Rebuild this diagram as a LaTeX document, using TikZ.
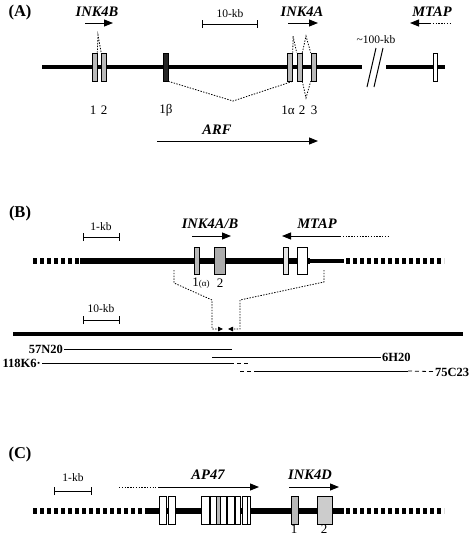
\documentclass[tikz,border=0pt]{standalone}
\usepackage{fontspec}
\setmainfont{Liberation Serif}
\usetikzlibrary{arrows.meta}
\begin{document}
\begin{tikzpicture}[x=1pt,y=-1pt,
 exon/.style={draw=black,line width=0.6pt,inner sep=0pt,minimum height=28pt,anchor=center},
 gx/.style={exon,fill=gray!55},
 lgx/.style={exon,fill=gray!30},
 wx/.style={exon,fill=white},
 dx/.style={exon,fill=black!85},
 chrom/.style={line width=4.2pt},
 chromb/.style={line width=5.5pt},
 chromdash/.style={line width=5.5pt,dash pattern=on 4pt off 3pt},
 gene/.style={font=\fontsize{14.5}{14.5}\selectfont\bfseries\itshape,inner sep=0pt},
 lab/.style={font=\fontsize{13}{13}\selectfont,inner sep=0pt},
 small/.style={font=\fontsize{11.5}{11.5}\selectfont,inner sep=0pt},
 clone/.style={font=\fontsize{12.5}{12.5}\selectfont\bfseries,inner sep=1pt},
 panel/.style={font=\fontsize{16.5}{16.5}\selectfont\bfseries,inner sep=0pt},
 dir/.style={line width=0.9pt,-{Triangle[length=9pt,width=7pt]}},
 dots/.style={line width=0.8pt,dash pattern=on 1.4pt off 1.4pt},
 thinl/.style={line width=0.8pt},
 scalebar/.style={line width=0.7pt,{Bar[width=8pt]}-{Bar[width=8pt]}}
]
\useasboundingbox (0,0) rectangle (474,539);

% ---------------- Panel A ----------------
\node[panel] (pA) at (20,13) {(A)};
\node[gene] (gINKB) at (97,12) {INK4B};
\coordinate (aB1) at (85,23); \coordinate (aB2) at (113,23);
\draw[dir] (aB1) -- (aB2);
\coordinate (sA1) at (202,24); \coordinate (sA2) at (258,24);
\draw[scalebar] (sA1) -- (sA2);
\node[small] (tenkbA) at (230,14) {10-kb};
\node[gene] (gINKA) at (302,12) {INK4A};
\coordinate (aA1) at (288,23); \coordinate (aA2) at (318,23);
\draw[dir] (aA1) -- (aA2);
\node[gene] (gMTAPa) at (432,12) {MTAP};
\coordinate (aM1) at (430,23); \coordinate (aM2) at (410,23); \coordinate (aM3) at (451,23);
\draw[dir] (aM1) -- (aM2);
\draw[dots] (aM1) -- (aM3);
\node[small] (hundred) at (376,40) {\textasciitilde100-kb};

\coordinate (cA1) at (42,67); \coordinate (cA2) at (362,67);
\coordinate (cA3) at (386,67); \coordinate (cA4) at (445,67);
\draw[chrom] (cA1) -- (cA2);
\draw[chrom] (cA3) -- (cA4);
\draw[line width=1pt] (367,87) -- (376,48);
\draw[line width=1pt] (374,87) -- (383,48);

\node[gx,minimum width=5pt] (b1) at (94.5,67) {};
\node[gx,minimum width=5pt] (b2) at (104,67) {};
\node[dx,minimum width=5pt] (e1b) at (165.5,67) {};
\node[gx,minimum width=5pt] (e1a) at (290,67) {};
\node[gx,minimum width=5pt] (e2) at (299.5,67) {};
\node[gx,minimum width=5pt] (e3) at (313.5,67) {};
\node[wx,minimum width=4pt] (m1) at (435,67) {};

\draw[dots] (b1.north east) -- (98,35) -- (b2.north west);
\draw[dots] (e1a.north east) -- (293,36) -- (e2.north west);
\draw[dots] (e2.north east) -- (306,36) -- (e3.north west);
\draw[dots] (e2.south east) -- (306,98) -- (e3.south west);
\draw[dots] (e1b.south east) -- (233,101) -- (e1a.south east);

\node[lab] (l1) at (93,110) {1};
\node[lab] (l2) at (104,110) {2};
\node[lab] (l1b) at (166,110) {1β};
\node[lab] (l1a) at (288,110) {1α};
\node[lab] (l2a) at (302,110) {2};
\node[lab] (l3a) at (314,110) {3};

\node[gene] (gARF) at (217,130) {ARF};
\coordinate (arf1) at (157,141); \coordinate (arf2) at (318,141);
\draw[dir] (arf1) -- (arf2);

% ---------------- Panel B ----------------
\node[panel] (pB) at (20,214) {(B)};
\coordinate (sB1) at (83,237); \coordinate (sB2) at (120,237);
\draw[scalebar] (sB1) -- (sB2);
\node[small] (onekbB) at (101,227) {1-kb};
\node[gene] (gINKAB) at (210,224) {INK4A/B};
\coordinate (aAB1) at (192,236); \coordinate (aAB2) at (231,236);
\draw[dir] (aAB1) -- (aAB2);
\node[gene] (gMTAPb) at (317,224) {MTAP};
\coordinate (aMb1) at (340,236); \coordinate (aMb2) at (282,236); \coordinate (aMb3) at (390,236);
\draw[dir] (aMb1) -- (aMb2);
\draw[dots] (aMb1) -- (aMb3);

\coordinate (cB0) at (33,261); \coordinate (cB1) at (80,261);
\coordinate (cB2) at (310,261); \coordinate (cB3) at (344,261);
\coordinate (cB4) at (346,261); \coordinate (cB5) at (444,261);
\draw[chromdash] (cB0) -- (cB1);
\draw[chromb] (cB1) -- (cB2);
\draw[line width=4pt] (cB2) -- (cB3);
\draw[chromdash] (cB4) -- (cB5);

\node[gx,minimum width=5pt,minimum height=27pt] (x1) at (196.5,261) {};
\node[gx,fill=gray!65,minimum width=11pt,minimum height=27pt] (x2) at (219.5,261) {};
\node[lgx,fill=gray!20,minimum width=5pt,minimum height=27pt] (mx1) at (285.5,261) {};
\node[wx,minimum width=10pt,minimum height=27pt] (mx2) at (302,261) {};
\node[lab] (lx1) at (201,283) {1{\fontsize{9}{9}\selectfont(α)}};
\node[lab] (lx2) at (220,283) {2};

\coordinate (dl0) at (174,270); \coordinate (dr0) at (324,270);
\coordinate (tL) at (223,329); \coordinate (tR) at (228,329);
\draw[dots,-{Triangle[length=5pt,width=4.5pt]}] (dl0) -- (174,283) -- (212,300) -- (212,329) -- (tL);
\draw[dots,-{Triangle[length=5pt,width=4.5pt]}] (dr0) -- (324,282) -- (240,300) -- (240,329) -- (tR);

\coordinate (sC1) at (83,320); \coordinate (sC2) at (120,320);
\draw[scalebar] (sC1) -- (sC2);
\node[small] (tenkbB) at (101,309) {10-kb};
\coordinate (lg1) at (13,334); \coordinate (lg2) at (463,334);
\draw[line width=3.5pt] (lg1) -- (lg2);

\node[clone,anchor=east] (k57) at (64,349) {57N20};
\coordinate (k57e) at (232,349);
\draw[thinl] (k57) -- (k57e);
\coordinate (k6s) at (212,357);
\node[clone,anchor=west] (k6) at (381,357) {6H20};
\draw[thinl] (k6s) -- (k6);
\node[clone,anchor=east] (k118) at (42,363) {118K6·};
\coordinate (k118m) at (230,363); \coordinate (k118e) at (250,363);
\draw[thinl] (k118) -- (k118m);
\draw[thinl,dash pattern=on 4pt off 3pt] (k118m) -- (k118e);
\coordinate (k75s) at (240,371); \coordinate (k75a) at (258,371); \coordinate (k75b) at (408,371);
\node[clone,anchor=west] (k75) at (434,372) {75C23};
\draw[thinl,dash pattern=on 4pt off 3pt] (k75s) -- (k75a);
\draw[thinl] (k75a) -- (k75b);
\draw[thinl,dash pattern=on 4pt off 3pt] (k75b) -- (k75);

% ---------------- Panel C ----------------
\node[panel] (pC) at (20,455) {(C)};
\coordinate (sD1) at (54,491); \coordinate (sD2) at (92,491);
\draw[scalebar] (sD1) -- (sD2);
\node[small] (onekbC) at (73,478) {1-kb};
\node[gene] (gAP) at (208,475) {AP47};
\coordinate (ap0) at (119,487); \coordinate (ap1) at (156,487); \coordinate (ap2) at (259,487);
\draw[dots] (ap0) -- (ap1);
\draw[dir] (158,487) -- (ap2);
\node[gene] (gINKD) at (310,475) {INK4D};
\coordinate (ad1) at (289,487); \coordinate (ad2) at (339,487);
\draw[dir] (ad1) -- (ad2);

\coordinate (cC0) at (33,511); \coordinate (cC1) at (147,511);
\coordinate (cC2) at (344,511); \coordinate (cC3) at (346,511); \coordinate (cC4) at (444,511);
\draw[chromdash] (cC0) -- (cC1);
\draw[chromb] (cC1) -- (cC2);
\draw[chromdash] (cC3) -- (cC4);

\node[wx,minimum width=6.7pt] (p1) at (162.7,510) {};
\node[wx,minimum width=6.7pt] (p2) at (171.7,510) {};
\node[wx,minimum width=7.5pt] (p3) at (205.5,510) {};
\node[wx,minimum width=6pt] (p4) at (213,510) {};
\node[gx,minimum width=4pt] (p5) at (218,510) {};
\node[wx,minimum width=6pt] (p6) at (223.7,510) {};
\node[wx,minimum width=6.3pt] (p7) at (230.9,510) {};
\node[wx,minimum width=5.7pt] (p8) at (237.9,510) {};
\node[wx,minimum width=4.6pt] (p9) at (245,510) {};
\node[wx,minimum width=3.4pt] (p10) at (249,510) {};
\node[gx,minimum width=7pt] (d1) at (294.5,510) {};
\node[lgx,fill=gray!40,minimum width=15pt] (d2) at (324.5,510) {};
\node[lab] (ld1) at (294,529) {1};
\node[lab] (ld2) at (324,529) {2};
\end{tikzpicture}
\end{document}
